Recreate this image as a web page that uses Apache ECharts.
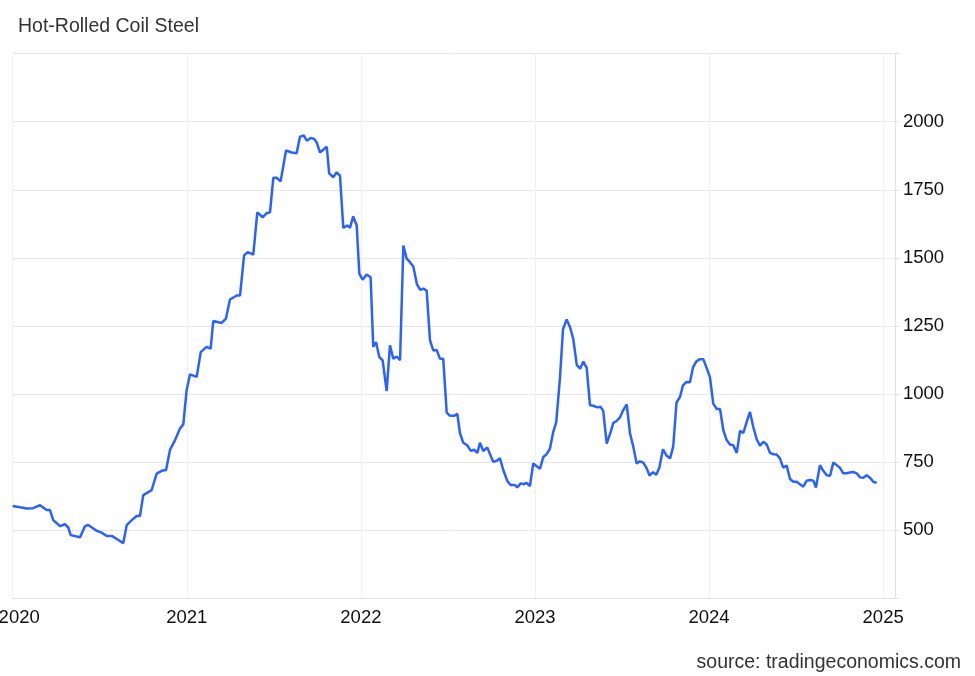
<!DOCTYPE html>
<html>
<head>
<meta charset="utf-8">
<script src="https://cdn.jsdelivr.net/npm/echarts@6/dist/echarts.min.js"></script>
<style>
html,body{margin:0;padding:0;background:#fff;}
#chart{width:975px;height:676px;}
</style>
</head>
<body>
<div id="chart"></div>
<script>
const years = [
2020.000,2020.042,2020.080,2020.117,2020.157,2020.195,2020.214,2020.233,2020.272,2020.300,2020.319,2020.333,2020.387,2020.415,2020.434,2020.482,2020.511,2020.540,2020.569,2020.578,2020.607,2020.635,2020.655,2020.684,2020.712,2020.731,2020.750,2020.798,2020.827,2020.856,2020.881,2020.904,2020.932,2020.961,2020.980,2020.999,
2021.018,2021.057,2021.080,2021.114,2021.137,2021.152,2021.200,2021.225,2021.248,2021.287,2021.306,2021.329,2021.350,2021.382,2021.405,2021.436,2021.459,2021.478,2021.497,2021.516,2021.539,2021.570,2021.603,2021.631,2021.650,2021.673,2021.689,2021.712,2021.731,2021.746,2021.765,2021.804,2021.818,2021.841,2021.861,2021.880,2021.899,2021.922,2021.937,2021.956,2021.976,2021.991,
2022.010,2022.033,2022.056,2022.071,2022.087,2022.106,2022.125,2022.148,2022.167,2022.186,2022.206,2022.225,2022.244,2022.263,2022.282,2022.301,2022.322,2022.341,2022.359,2022.378,2022.397,2022.416,2022.435,2022.454,2022.473,2022.493,2022.512,2022.535,2022.554,2022.569,2022.588,2022.611,2022.631,2022.650,2022.669,2022.684,2022.703,2022.726,2022.760,2022.780,2022.799,2022.818,2022.841,2022.860,2022.885,2022.898,2022.918,2022.937,2022.952,2022.971,2022.990,
2023.010,2023.029,2023.048,2023.067,2023.086,2023.105,2023.122,2023.144,2023.161,2023.182,2023.201,2023.220,2023.240,2023.259,2023.278,2023.297,2023.316,2023.335,2023.358,2023.377,2023.392,2023.412,2023.435,2023.450,2023.469,2023.488,2023.507,2023.527,2023.546,2023.565,2023.584,2023.603,2023.622,2023.642,2023.658,2023.678,2023.697,2023.715,2023.735,2023.757,2023.776,2023.794,2023.813,2023.833,2023.850,2023.869,2023.890,2023.908,2023.926,2023.945,2023.967,2023.986,
2024.005,2024.024,2024.044,2024.063,2024.082,2024.101,2024.120,2024.139,2024.159,2024.178,2024.197,2024.216,2024.235,2024.254,2024.274,2024.293,2024.312,2024.331,2024.350,2024.369,2024.388,2024.407,2024.426,2024.446,2024.465,2024.484,2024.503,2024.522,2024.541,2024.561,2024.580,2024.599,2024.614,2024.637,2024.656,2024.676,2024.695,2024.714,2024.733,2024.752,2024.771,2024.790,2024.809,2024.828,2024.848,2024.867,2024.886,2024.905,2024.924,2024.943,2024.963
];
// Price, USD per tonne
const prices = [
589,584,580,581,592,574,574,537,515,522,510,482,474,515,519,498,491,479,479,486,464,452,519,537,552,552,629,647,708,718,721,796,830,873,889,1014,
1072,1063,1154,1173,1167,1268,1261,1277,1347,1362,1362,1509,1521,1512,1667,1649,1664,1667,1794,1794,1781,1894,1887,1884,1945,1949,1930,1940,1937,1924,1887,1908,1810,1796,1814,1802,1610,1619,1610,1652,1619,1442,
1420,1439,1429,1173,1191,1136,1124,1011,1179,1130,1138,1124,1545,1497,1484,1468,1403,1383,1387,1380,1197,1160,1162,1130,1130,932,920,920,927,857,821,812,791,796,784,821,791,804,751,755,764,721,681,666,666,657,672,669,674,662,745,
735,726,769,779,800,861,896,1063,1238,1274,1246,1202,1107,1093,1119,1096,959,957,951,953,938,818,861,894,901,914,941,962,855,806,745,753,748,727,701,713,704,731,797,773,764,807,969,989,1032,1044,1043,1098,1119,1128,1128,1096,
1062,965,945,945,867,831,815,812,784,865,857,898,934,879,833,810,825,815,784,779,778,764,730,737,688,678,678,669,660,682,684,682,657,739,718,702,700,749,739,729,709,709,712,714,709,694,693,702,693,678,674
];
const yearTicks = [2020, 2021, 2022, 2023, 2024, 2025];
const priceTicks = [500, 750, 1000, 1250, 1500, 1750, 2000];
const titleText = 'Hot-Rolled Coil Steel';
const sourceText = 'source: tradingeconomics.com';

const data = years.map((y, i) => [y, prices[i]]);
const chart = echarts.init(document.getElementById('chart'), null, {renderer: 'canvas'});
const font = 'Liberation Sans, Arial, sans-serif';
chart.setOption({
  animation: false,
  backgroundColor: '#ffffff',
  title: [
    {text: titleText, left: 13, top: 11, textStyle: {fontFamily: font, fontSize: 19.5, fontWeight: 'normal', color: '#333333', lineHeight: 22}},
    {text: sourceText, right: 9, top: 647, textStyle: {fontFamily: font, fontSize: 19.5, fontWeight: 'normal', color: '#333333', lineHeight: 22}}
  ],
  grid: {left: 12.7, right: 80, top: 53.6, bottom: 77.7, containLabel: false, outerBoundsMode: 'none'},
  xAxis: {
    type: 'value', min: 2020, max: 2025.068, interval: 1,
    axisLine: {show: true, lineStyle: {color: '#e3e3e3', width: 1}},
    axisTick: {show: false},
    splitLine: {show: true, lineStyle: {color: '#eef1f5', width: 1}},
    axisLabel: {
      fontFamily: font, fontSize: 18.5, color: '#111111', margin: 10,
      formatter: v => {
        const r = Math.round(v * 1000) / 1000;
        if (!yearTicks.includes(r)) return '';
        return r === yearTicks[0] ? '{first|' + r + '}' : String(r);
      },
      rich: {first: {fontFamily: font, fontSize: 18.5, color: '#111111', padding: [0, 0, 0, 13]}}
    }
  },
  yAxis: {
    type: 'value', position: 'right', min: 250, max: 2250, interval: 250,
    axisLine: {show: true, lineStyle: {color: '#e3e3e3', width: 1}},
    axisTick: {show: true, length: 4, lineStyle: {color: '#e3e3e3'}},
    splitLine: {show: true, lineStyle: {color: '#e8e8e8', width: 1}},
    axisLabel: {
      fontFamily: font, fontSize: 18.5, color: '#111111', margin: 8,
      formatter: v => priceTicks.includes(v) ? String(v) : ''
    }
  },
  series: [{
    type: 'line', data: data, showSymbol: false, smooth: false,
    lineStyle: {color: '#2962ff', width: 2.5},
    itemStyle: {color: '#2962ff'}
  }]
});
</script>
</body>
</html>
